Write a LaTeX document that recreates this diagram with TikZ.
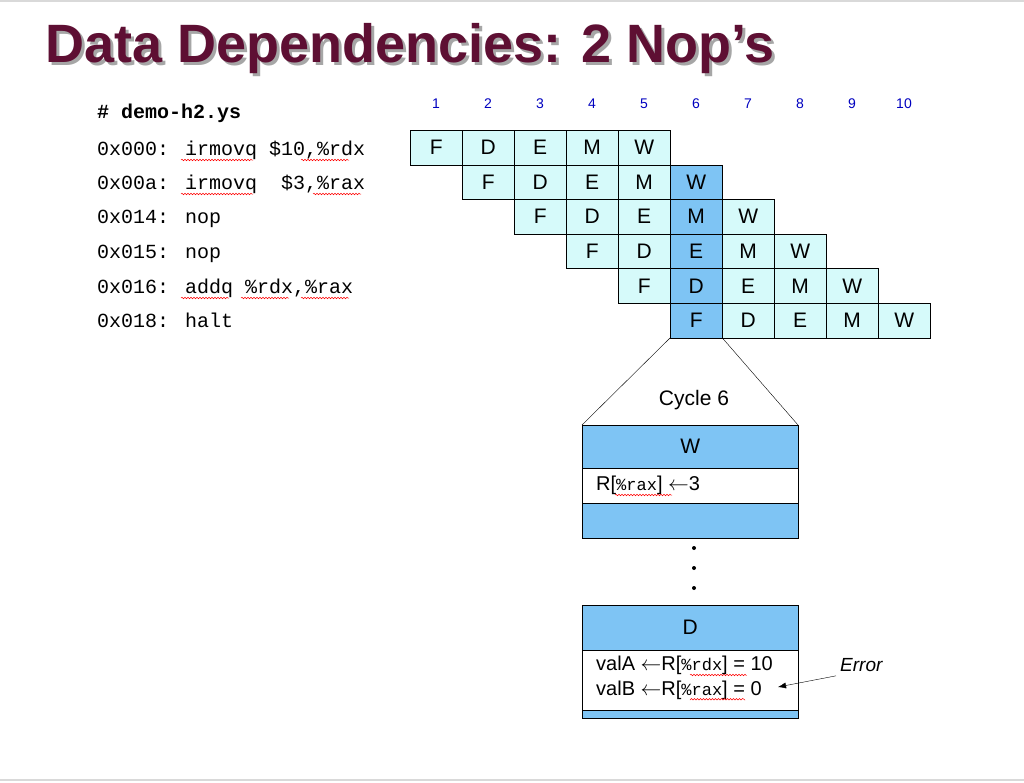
\documentclass[tikz,border=0pt]{standalone}
\usepackage{fontspec}
\setmainfont{Liberation Sans}
\newfontfamily\mono{Liberation Mono}
\usetikzlibrary{decorations.pathmorphing,arrows.meta}
\definecolor{lite}{HTML}{D6FAFA}
\definecolor{dark}{HTML}{7EC4F4}
\definecolor{ttl}{HTML}{5E0F33}
\begin{document}
\begin{tikzpicture}[x=1pt,y=-1pt,
 cell/.style={draw,fill=lite,minimum width=52pt,minimum height=34.6pt,anchor=north west,inner sep=0,font=\fontsize{21}{21}\selectfont},
 hl/.style={fill=dark},
 code/.style={anchor=base west,font=\mono\fontsize{20}{20}\selectfont,inner sep=0},
 num/.style={text=blue!75!black,font=\fontsize{14}{14}\selectfont},
 sq/.style={red,line width=0.5pt,decorate,decoration={snake,amplitude=0.8pt,segment length=3pt}},
 lbl/.style={font=\fontsize{21}{21}\selectfont},
 btxt/.style={anchor=west,inner sep=0,font=\fontsize{20}{20}\selectfont}]
\useasboundingbox (0,0) rectangle (1024,782);
\draw[gray!30,line width=2pt] (0,1)--(1024,1);
\draw[gray!30,line width=2pt] (0,780)--(1024,780);
% title
\node[anchor=base west,inner sep=0,text=gray!70,font=\bfseries\fontsize{54}{54}\selectfont] (tsh) at (48,65) {Data Dependencies: 2 Nop’s};
\node[anchor=base west,inner sep=0,text=ttl,font=\bfseries\fontsize{54}{54}\selectfont] (t) at (45,62) {Data Dependencies: 2 Nop’s};
% code
\node[code,font=\mono\bfseries\fontsize{20}{20}\selectfont] (c0) at (97,118) {\# demo-h2.ys};
\node[code] (c1) at (97,155) {0x000: irmovq \$10,\%rdx};
\node[code] (c2) at (97,189) {0x00a: irmovq \ \$3,\%rax};
\node[code] (c3) at (97,223) {0x014: nop};
\node[code] (c4) at (97,258) {0x015: nop};
\node[code] (c5) at (97,293) {0x016: addq \%rdx,\%rax};
\node[code] (c6) at (97,327) {0x018: halt};
\foreach \a/\b/\y in {181/253/160,301/349/160,181/253/194,313/361/194,181/229/298,241/289/298,301/349/298}
  \draw[sq] (\a,\y)--(\b,\y);
% numbers
\foreach \i in {1,...,10} \node[num] (n\i) at (436+52*\i-52,104) {\i};
% grid
\foreach \r in {0,...,5}{
  \foreach \s/\k in {F/0,D/1,E/2,M/3,W/4}{
    \pgfmathtruncatemacro\c{\r+\k}
    \ifnum\c=5 \ifnum\r>0
      \node[cell,hl] (g\r\k) at (410+52*\c,130+34.6*\r) {\s};
    \else
      \node[cell] (g\r\k) at (410+52*\c,130+34.6*\r) {\s};
    \fi\else
      \node[cell] (g\r\k) at (410+52*\c,130+34.6*\r) {\s};
    \fi
  }}
% zoom
\coordinate (bl) at (582,425);
\coordinate (br) at (798,425);
\draw (g50.south west)--(bl) (g50.south east)--(br);
\node[lbl] (cyc) at (694,400) {Cycle 6};
\node[draw,fill=dark,minimum width=216pt,minimum height=43pt,anchor=north west,inner sep=0,lbl] (w) at (582,425) {W};
\node[draw,fill=white,minimum width=216pt,minimum height=35pt,anchor=north west,inner sep=0] (wr) at (582,468) {};
\node[btxt] (wt) at (596,485) {R[{\mono\fontsize{17}{17}\selectfont\%rax}] $\leftarrow$3};
\draw[sq] (615,495)--(672,495);
\node[draw,fill=dark,minimum width=216pt,minimum height=35pt,anchor=north west,inner sep=0] (wb) at (582,503) {};
\foreach \y in {548,568,588} \fill (694,\y) circle (2pt);
\node[draw,fill=dark,minimum width=216pt,minimum height=45pt,anchor=north west,inner sep=0,lbl] (d) at (582,605) {D};
\node[draw,fill=white,minimum width=216pt,minimum height=60pt,anchor=north west,inner sep=0] (dr) at (582,650) {};
\node[draw,fill=dark,minimum width=216pt,minimum height=8pt,anchor=north west,inner sep=0] (db) at (582,710) {};
\node[btxt] (va) at (596,665) {valA $\leftarrow$R[{\mono\fontsize{17}{17}\selectfont\%rdx}] = 10};
\node[btxt] (vb) at (596,690) {valB $\leftarrow$R[{\mono\fontsize{17}{17}\selectfont\%rax}] = 0};
\draw[sq] (690,675)--(745,675) (690,700)--(745,700);
\node[font=\itshape\fontsize{19}{19}\selectfont,anchor=west,inner sep=0] (err) at (840,665) {Error};
\draw[-{Latex[length=8pt,width=6pt]}] (err.south west)++(-4,4) coordinate (ea) -- (778,687);
\end{tikzpicture}
\end{document}
